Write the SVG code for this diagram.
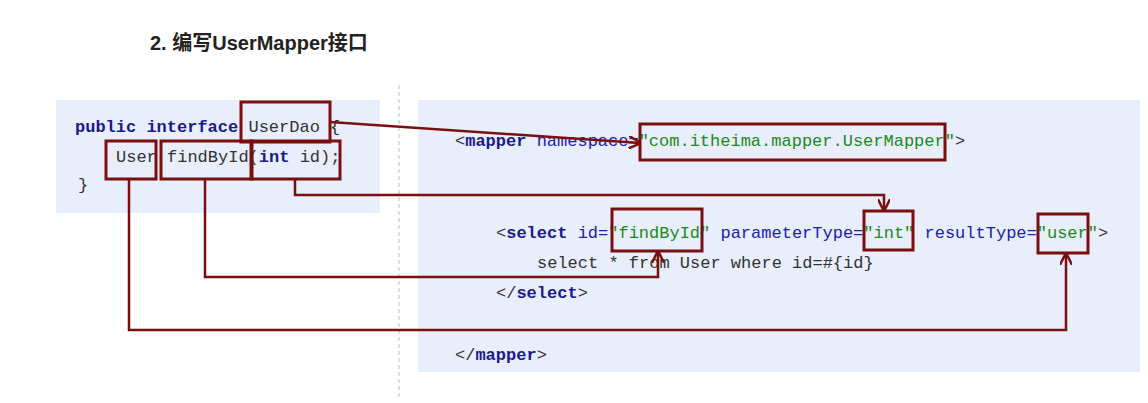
<svg xmlns="http://www.w3.org/2000/svg" width="1148" height="403" viewBox="0 0 1148 403">
<defs>
<style>
.c{font-family:"Liberation Mono",monospace;font-size:17px;fill:#333}
.k{fill:#1a1a8c;font-weight:bold}
.a{fill:#2020b0}
.s{fill:#1a8a1a}
.b{fill:none;stroke:#7a0f0f;stroke-width:3}
.l{fill:none;stroke:#7a0f0f;stroke-width:2.5}
</style>
<marker id="ar" viewBox="0 0 10 10" refX="9" refY="5" markerWidth="5" markerHeight="5" orient="auto"><path d="M0,0 L10,5 L0,10" fill="none" stroke="#7a0f0f" stroke-width="2"/></marker>
</defs>
<rect width="1148" height="403" fill="#fff"/>
<text x="150" y="50" font-family="'Liberation Sans','Noto Sans CJK SC',sans-serif" font-size="20" font-weight="bold" fill="#222">2. 编写UserMapper接口</text>
<line x1="399" y1="85" x2="399" y2="400" stroke="#bbb" stroke-dasharray="4,3"/>
<g id="left">
<rect x="56" y="100" width="324" height="113" fill="#e8eefb"/>
<text class="c" x="75" y="132"><tspan class="k">public interface</tspan> UserDao {</text>
<text class="c" x="116" y="162">User findById(<tspan class="k">int</tspan> id);</text>
<text class="c" x="78" y="190">}</text>
<rect class="b" x="241" y="102" width="89" height="40"/>
<rect class="b" x="106" y="141" width="50" height="38"/>
<rect class="b" x="161" y="141" width="91" height="38"/>
<rect class="b" x="251" y="141" width="89" height="38"/>
</g>
<g id="right">
<rect x="418" y="100" width="722" height="272" fill="#e8eefb"/>
<text class="c" x="455" y="146">&lt;<tspan class="k">mapper</tspan> <tspan class="a">namespace=</tspan><tspan class="s">"com.itheima.mapper.UserMapper"</tspan>&gt;</text>
<text class="c" x="496" y="238">&lt;<tspan class="k">select</tspan> <tspan class="a">id=</tspan><tspan class="s">"findById"</tspan> <tspan class="a">parameterType=</tspan><tspan class="s">"int"</tspan> <tspan class="a">resultType=</tspan><tspan class="s">"user"</tspan>&gt;</text>
<text class="c" x="537" y="268">select * from User where id=#{id}</text>
<text class="c" x="496" y="298">&lt;/<tspan class="k">select</tspan>&gt;</text>
<text class="c" x="455" y="360">&lt;/<tspan class="k">mapper</tspan>&gt;</text>
<rect class="b" x="640" y="124" width="305" height="36"/>
<rect class="b" x="612" y="209" width="90" height="42"/>
<rect class="b" x="864" y="211" width="49" height="39"/>
<rect class="b" x="1038" y="214" width="50" height="39"/>
</g>
<g id="connectors">
<polyline class="l" points="330,122 640,143" marker-end="url(#ar)"/>
<polyline class="l" points="295,179 295,195 884,195 884,210" marker-end="url(#ar)"/>
<polyline class="l" points="205,179 205,277 658,277 658,252" marker-end="url(#ar)"/>
<polyline class="l" points="129,179 129,330 1066,330 1066,254" marker-end="url(#ar)"/>
</g>
</svg>
